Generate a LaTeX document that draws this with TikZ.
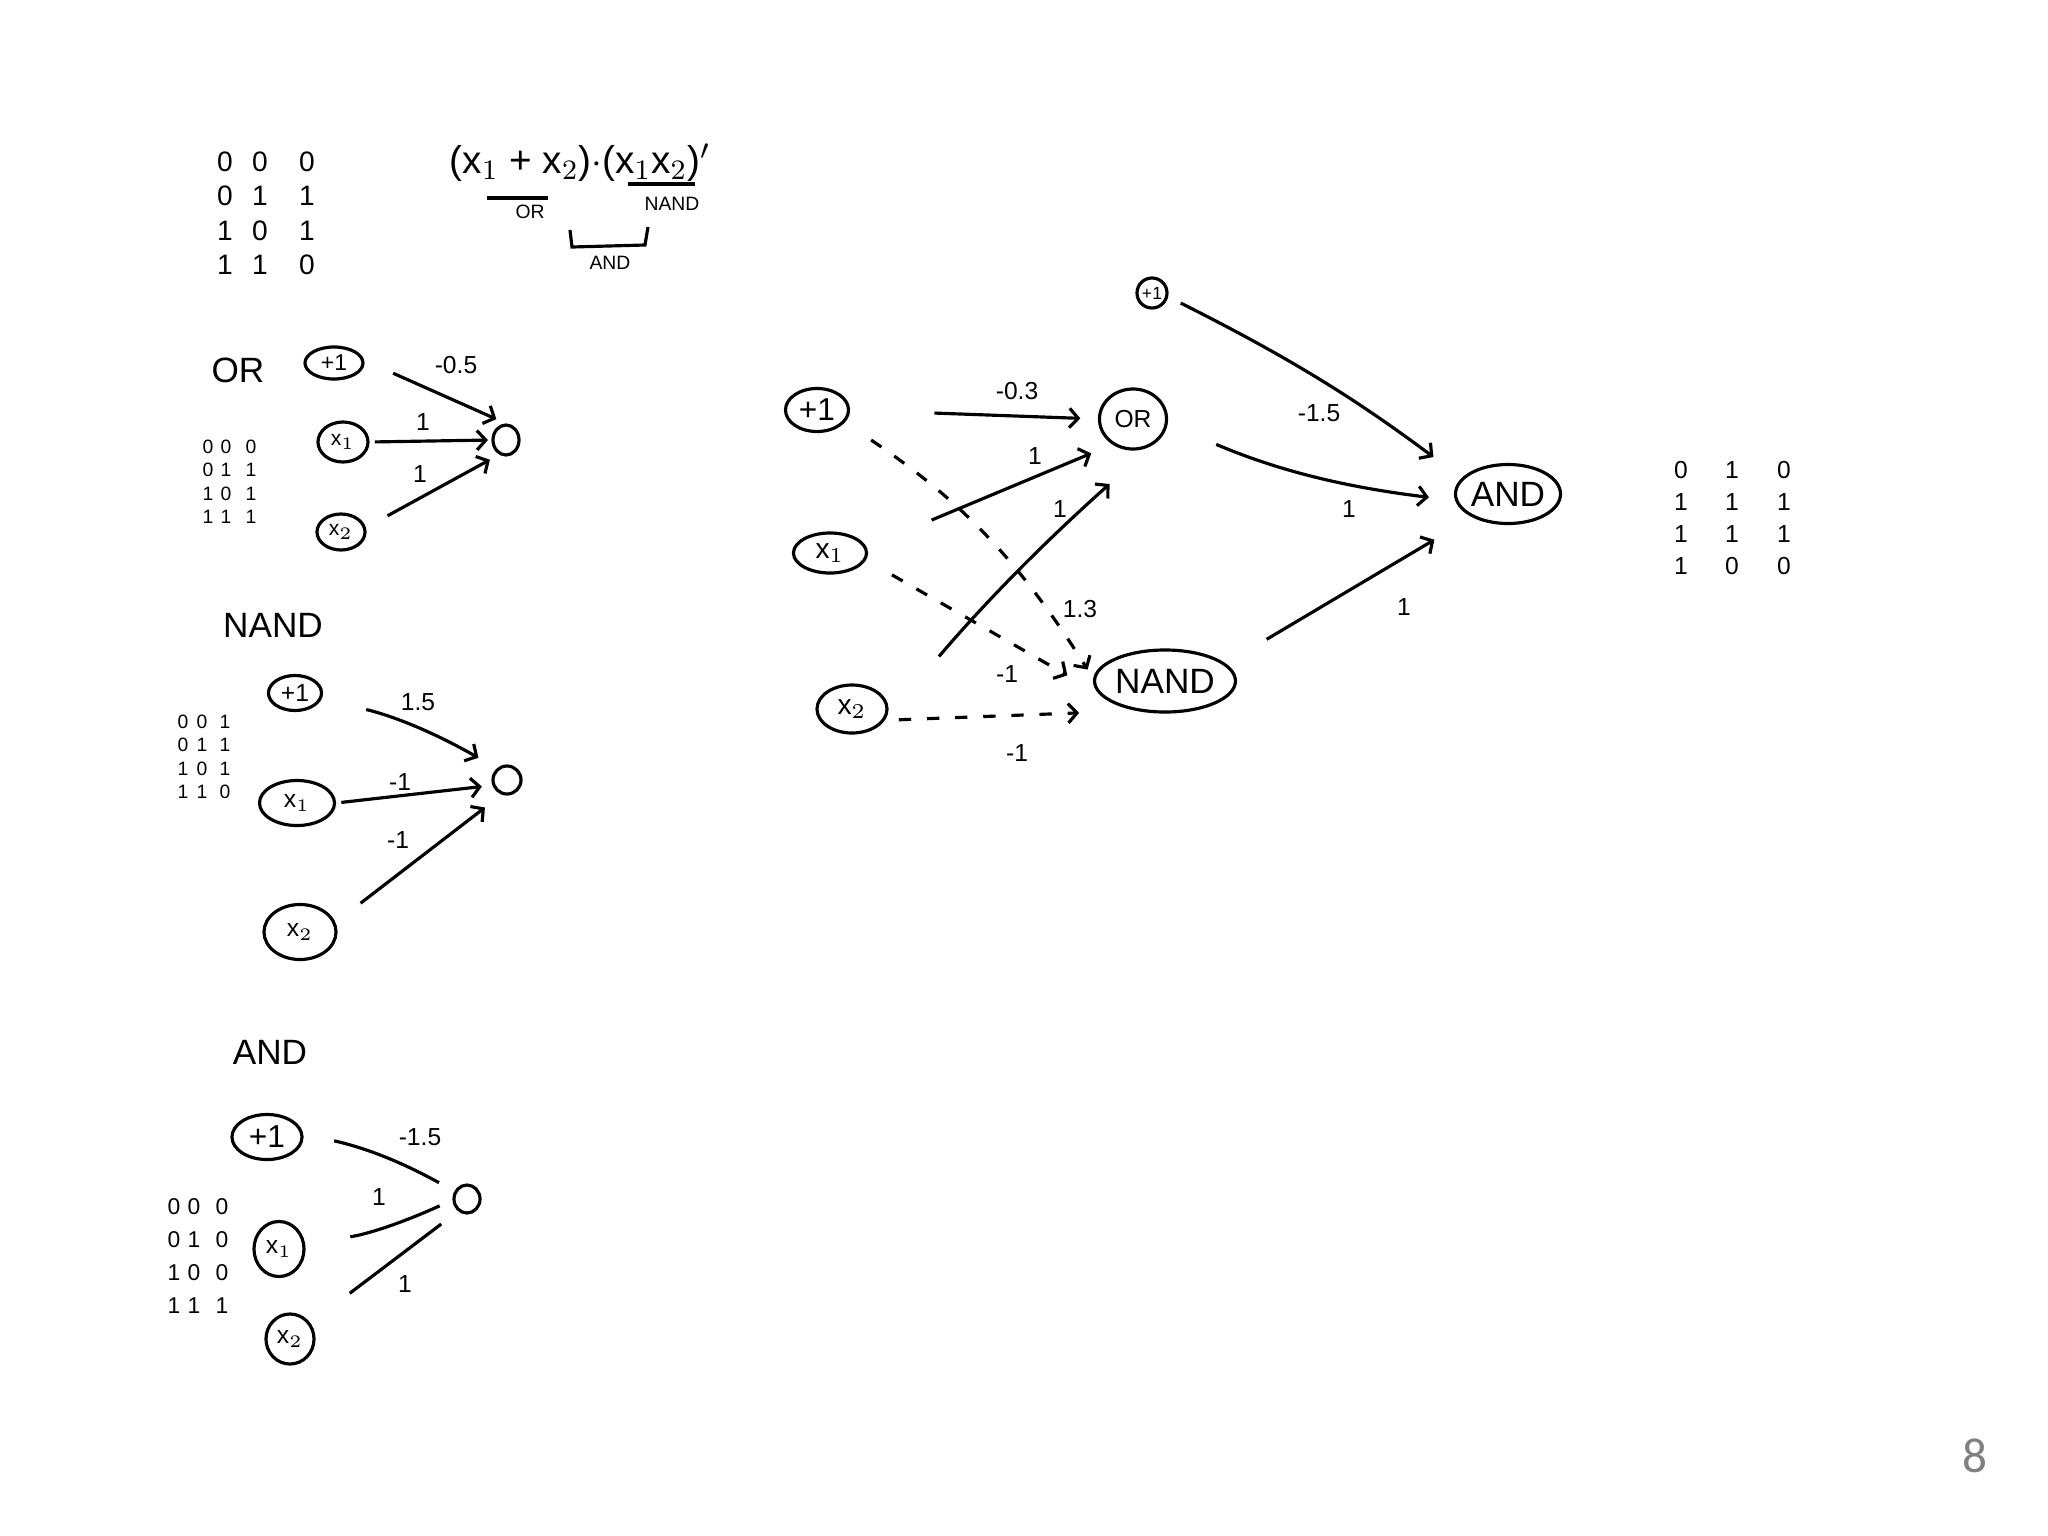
\documentclass[tikz,border=0pt]{standalone}
\usepackage{fontspec}
\setmainfont{Liberation Sans}
\newfontfamily\pagefont{Carlito}
\usetikzlibrary{shapes.geometric,arrows.meta}

\tikzset{
  unit/.style={draw, ellipse, inner sep=0pt, line width=0.9pt},
  wire/.style={line width=0.9pt, -{Straight Barb[length=2.5pt,width=5.5pt]}},
  plain/.style={line width=0.9pt},
  dwire/.style={wire, dash pattern=on 3.5pt off 4.5pt},
  wlbl/.style={font=\fontsize{7}{7}\selectfont, inner sep=1pt},
  ttl/.style={font=\fontsize{10}{10}\selectfont},
  tbl/.style={inner sep=0.5pt},
}

\begin{document}
\begin{tikzpicture}[x=0.01cm,y=0.01cm]
\useasboundingbox (0,0) rectangle (2048,-1536);

% truth table and formula
\foreach \a/\b/\c [count=\i] in {0/0/0,0/1/1,1/0/1,1/1/0}{
  \pgfmathsetmacro\ty{-162-34.3*(\i-1)}
  \node[tbl, font=\fontsize{8}{8}\selectfont] (tt-\i-a) at (225,\ty) {\a};
  \node[tbl, font=\fontsize{8}{8}\selectfont] (tt-\i-b) at (260,\ty) {\b};
  \node[tbl, font=\fontsize{8}{8}\selectfont] (tt-\i-c) at (307,\ty) {\c};
}
\node[font=\fontsize{11}{11}\selectfont] (formula) at (580,-163) {(x$_1$ + x$_2$)$\cdot$(x$_1$x$_2$)$'$};
\draw[plain] (487,-198) -- (548,-198);
\draw[plain] (628,-184) -- (695,-184);
\draw[plain] (570,-230) -- (572,-247) -- (645,-245) -- (648,-227);
\node[font=\fontsize{5.5}{5.5}\selectfont] (fOR) at (530,-212) {OR};
\node[font=\fontsize{5.5}{5.5}\selectfont] (fNAND) at (672,-204) {NAND};
\node[font=\fontsize{5.5}{5.5}\selectfont] (fAND) at (610,-263) {AND};

% OR unit
\node[ttl] (orttl) at (238,-370) {OR};
\foreach \a/\b/\c [count=\i] in {0/0/0,0/1/1,1/0/1,1/1/1}{
  \pgfmathsetmacro\ty{-447-23.3*(\i-1)}
  \node[tbl, font=\fontsize{5.5}{5.5}\selectfont] (ortt-\i-a) at (208,\ty) {\a};
  \node[tbl, font=\fontsize{5.5}{5.5}\selectfont] (ortt-\i-b) at (226,\ty) {\b};
  \node[tbl, font=\fontsize{5.5}{5.5}\selectfont] (ortt-\i-c) at (251,\ty) {\c};
}
\node[unit, minimum width=0.58cm, minimum height=0.32cm, font=\fontsize{6.5}{6.5}\selectfont] (orone) at (334,-363) {+1};
\node[unit, minimum width=0.50cm, minimum height=0.40cm, font=\fontsize{6}{6}\selectfont] (orxa) at (343,-442) {x$_1$};
\node[unit, minimum width=0.48cm, minimum height=0.36cm, font=\fontsize{6}{6}\selectfont] (orxb) at (341,-532) {x$_2$};
\node[unit, minimum width=0.26cm, minimum height=0.30cm] (orout) at (506,-440) {};
\draw[wire, shorten <=9pt, shorten >=3pt] (orone.5) -- (orout.north);
\draw[wire, shorten <=1.5pt, shorten >=1pt] (orxa.east) -- (orout.west);
\draw[wire, shorten <=7pt, shorten >=3pt] (orxb.10) -- (orout.245);
\node[wlbl] (orw0) at (456,-365) {-0.5};
\node[wlbl] (orw1) at (423,-422) {1};
\node[wlbl] (orw2) at (420,-474) {1};

% NAND unit
\node[ttl] (nandttl) at (273,-625) {NAND};
\foreach \a/\b/\c [count=\i] in {0/0/1,0/1/1,1/0/1,1/1/0}{
  \pgfmathsetmacro\ty{-722-23.3*(\i-1)}
  \node[tbl, font=\fontsize{5.5}{5.5}\selectfont] (nandtt-\i-a) at (183,\ty) {\a};
  \node[tbl, font=\fontsize{5.5}{5.5}\selectfont] (nandtt-\i-b) at (202,\ty) {\b};
  \node[tbl, font=\fontsize{5.5}{5.5}\selectfont] (nandtt-\i-c) at (225,\ty) {\c};
}
\node[unit, minimum width=0.53cm, minimum height=0.35cm, font=\fontsize{7}{7}\selectfont] (nandone) at (295,-693) {+1};
\node[unit, minimum width=0.75cm, minimum height=0.45cm, font=\fontsize{7}{7}\selectfont] (nandxa) at (297,-803) {x$_1$};
\node[unit, minimum width=0.72cm, minimum height=0.55cm, font=\fontsize{7}{7}\selectfont] (nandxb) at (300,-932) {x$_2$};
\node[unit, minimum width=0.28cm, minimum height=0.28cm] (nandout) at (507,-780) {};
\draw[wire, shorten <=13pt, shorten >=6pt] (nandone.-12) to[bend left=8] (nandout.131);
\draw[wire, shorten <=1.5pt, shorten >=3pt] (nandxa.east) -- (nandout.200);
\draw[wire, shorten <=9pt, shorten >=6pt] (nandxb.15) -- (nandout.250);
\node[wlbl] (nandw0) at (418,-702) {1.5};
\node[wlbl] (nandw1) at (400,-782) {-1};
\node[wlbl] (nandw2) at (398,-840) {-1};

% AND unit
\node[ttl] (andttl) at (270,-1052) {AND};
\foreach \a/\b/\c [count=\i] in {0/0/0,0/1/0,1/0/0,1/1/1}{
  \pgfmathsetmacro\ty{-1207-33*(\i-1)}
  \node[tbl, font=\fontsize{6.5}{6.5}\selectfont] (andtt-\i-a) at (174,\ty) {\a};
  \node[tbl, font=\fontsize{6.5}{6.5}\selectfont] (andtt-\i-b) at (194,\ty) {\b};
  \node[tbl, font=\fontsize{6.5}{6.5}\selectfont] (andtt-\i-c) at (222,\ty) {\c};
}
\node[unit, minimum width=0.70cm, minimum height=0.45cm, font=\fontsize{9}{9}\selectfont] (andone) at (267,-1137) {+1};
\node[unit, minimum width=0.50cm, minimum height=0.55cm, font=\fontsize{7}{7}\selectfont] (andxa) at (279,-1249) {x$_1$};
\node[unit, minimum width=0.48cm, minimum height=0.50cm, font=\fontsize{7}{7}\selectfont] (andxb) at (290,-1339) {x$_2$};
\node[unit, minimum width=0.26cm, minimum height=0.28cm] (andout) at (467,-1199) {};
\draw[plain, shorten <=9pt, shorten >=5pt] (andone.5) to[bend left=8] (andout.148);
\draw[plain, shorten <=13pt, shorten >=4pt] (andxa.12) to[bend right=8] (andout.184);
\draw[plain, shorten <=14pt, shorten >=6pt] (andxb.38) -- (andout.234);
\node[wlbl] (andw0) at (420,-1137) {-1.5};
\node[wlbl] (andw1) at (379,-1197) {1};
\node[wlbl] (andw2) at (405,-1284) {1};

% XOR network
\node[unit, minimum width=0.63cm, minimum height=0.43cm, font=\fontsize{9}{9}\selectfont] (bone) at (817,-410) {+1};
\node[unit, minimum width=0.73cm, minimum height=0.40cm, font=\fontsize{8}{8}\selectfont] (bxa) at (830,-553) {x$_1$};
\node[unit, minimum width=0.70cm, minimum height=0.48cm, font=\fontsize{8}{8}\selectfont] (bxb) at (852,-709) {x$_2$};
\node[unit, minimum width=0.67cm, minimum height=0.60cm, font=\fontsize{7}{7}\selectfont] (bor) at (1133,-419) {OR};
\node[unit, minimum width=1.30cm, minimum height=0.62cm, font=\fontsize{10}{10}\selectfont] (bnand) at (1165,-681) {NAND};
\node[unit, minimum width=0.30cm, minimum height=0.30cm, font=\fontsize{5}{5}\selectfont] (btop) at (1152,-293) {+1};
\node[unit, minimum width=1.04cm, minimum height=0.59cm, font=\fontsize{10}{10}\selectfont] (band) at (1508,-494) {AND};

\draw[wire, shorten <=24pt, shorten >=5pt] (bone.east) -- (bor.west);
\draw[dwire, shorten <=9pt, shorten >=3pt] (bone.-24) to[bend left=12] (bnand.178);
\draw[wire, shorten <=20pt, shorten >=6.5pt] (bxa.9) -- (bor.231);
\draw[dwire, shorten <=8.5pt, shorten >=10pt] (bxa.-11) -- (bnand.190);
\draw[wire, shorten <=24pt, shorten >=17pt] (bxb.-20) to[bend left=4] (bor.310);
\draw[dwire, shorten <=4pt, shorten >=16pt] (bxb.-19) -- (bnand.225);
\draw[wire, shorten <=4pt, shorten >=10pt] (btop.-13) to[bend left=5] (band.161);
\draw[wire, shorten <=15pt, shorten >=7.5pt] (bor.-8) to[bend right=8] (band.187);
\draw[wire, shorten <=13.5pt, shorten >=12.5pt] (bnand.16) -- (band.213);

\node[wlbl] (bw1) at (1017,-391) {-0.3};
\node[wlbl] (bw2) at (1080,-609) {1.3};
\node[wlbl] (bw3) at (1035,-456) {1};
\node[wlbl] (bw4) at (1007,-674) {-1};
\node[wlbl] (bw5) at (1060,-509) {1};
\node[wlbl] (bw6) at (1017,-753) {-1};
\node[wlbl] (bw7) at (1319,-413) {-1.5};
\node[wlbl] (bw8) at (1349,-509) {1};
\node[wlbl] (bw9) at (1404,-607) {1};

% XOR table
\foreach \a/\b/\c [count=\i] in {0/1/0,1/1/1,1/1/1,1/0/0}{
  \pgfmathsetmacro\ty{-470-32*(\i-1)}
  \node[tbl, font=\fontsize{7}{7}\selectfont] (xtt-\i-a) at (1681,\ty) {\a};
  \node[tbl, font=\fontsize{7}{7}\selectfont] (xtt-\i-b) at (1732,\ty) {\b};
  \node[tbl, font=\fontsize{7}{7}\selectfont] (xtt-\i-c) at (1784,\ty) {\c};
}

\node[text=gray, font=\pagefont\fontsize{14}{14}\selectfont] (pagenum) at (1975,-1456) {8};
\end{tikzpicture}
\end{document}
